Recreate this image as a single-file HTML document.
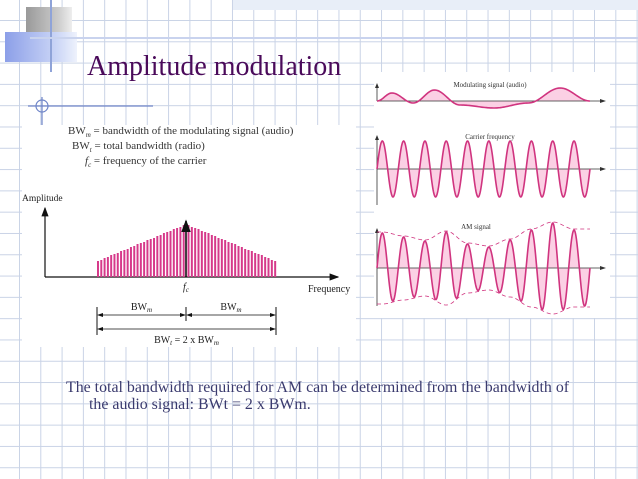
<!DOCTYPE html>
<html><head><meta charset="utf-8"><style>
html,body{margin:0;padding:0;}
body{width:638px;height:479px;position:relative;overflow:hidden;background-color:#fff;
background-image:linear-gradient(to right,#c9d3e6 1px,transparent 1px),linear-gradient(to bottom,#c9d3e6 1px,transparent 1px);
background-size:21.3px 21.3px;background-position:19px 20px;font-family:"Liberation Serif",serif;}
.abs{position:absolute;}
</style></head><body>
<div class="abs" style="left:233px;top:0;width:405px;height:10px;background:#e8eef8;"></div>
<div class="abs" style="left:26px;top:7px;width:46px;height:30px;background:linear-gradient(to right,#999,#ccc 70%,#eee);"></div>
<div class="abs" style="left:5px;top:32px;width:72px;height:30px;background:linear-gradient(to right,#8c9fe8,#c9d4f6 70%,#eef2fc);"></div>
<div class="abs" style="left:50px;top:0;width:2px;height:72px;background:#8fa3d8;"></div>
<div class="abs" style="left:30px;top:37px;width:608px;height:2px;background:#c9d3ee;"></div>
<div class="abs" style="left:87px;top:51px;font-size:28px;color:#4a0a5a;white-space:nowrap;">Amplitude modulation</div>
<svg class="abs" style="left:0;top:0" width="638" height="479">
<circle cx="42" cy="106" r="6" fill="none" stroke="#6f85c8" stroke-width="1.2"/>
<line x1="28" y1="106" x2="153" y2="106" stroke="#6f85c8" stroke-width="1.2"/>
<line x1="42" y1="97" x2="42" y2="128" stroke="#6f85c8" stroke-width="1.2"/>
</svg>
<div class="abs" style="left:22px;top:125px;width:334px;height:222px;background:#fff;"></div>
<div class="abs" style="left:374px;top:72px;width:236px;height:246px;background:#fff;"></div>
<div class="abs" style="left:68px;top:125px;font-size:11px;color:#333;white-space:nowrap;">BW<sub style="font-size:7px;font-style:italic">m</sub> = bandwidth of the modulating signal (audio)</div>
<div class="abs" style="left:72px;top:140px;font-size:11px;color:#333;white-space:nowrap;">BW<sub style="font-size:7px;font-style:italic">t</sub> = total bandwidth (radio)</div>
<div class="abs" style="left:85px;top:155px;font-size:11px;color:#333;white-space:nowrap;"><i>f</i><sub style="font-size:7px;font-style:italic">c</sub> = frequency of the carrier</div>
<svg class="abs" style="left:0;top:0" width="638" height="479" id="spec">
<defs><marker id="ah" markerWidth="8" markerHeight="6" refX="7" refY="3" orient="auto"><path d="M0,0L8,3L0,6z" fill="#111"/></marker></defs>
<text x="22" y="201" font-size="9.5" fill="#222" font-family="Liberation Serif,serif">Amplitude</text>
<text x="308" y="292" font-size="10" fill="#222" font-family="Liberation Serif,serif">Frequency</text>
<text x="183" y="290" font-size="10" font-style="italic" fill="#222" font-family="Liberation Serif,serif">f<tspan font-size="7" dy="2">c</tspan></text>
</svg>
<svg class="abs" style="left:0;top:0" width="638" height="479" id="waves">
<text x="490" y="87" font-size="7" text-anchor="middle" fill="#333" font-family="Liberation Serif,serif">Modulating signal (audio)</text>
<text x="490" y="139" font-size="7" text-anchor="middle" fill="#333" font-family="Liberation Serif,serif">Carrier frequency</text>
<text x="476" y="229" font-size="7" text-anchor="middle" fill="#333" font-family="Liberation Serif,serif">AM signal</text>
</svg>
<div class="abs" style="left:66px;top:379px;font-size:15.9px;color:#3a3a6e;line-height:17px;white-space:nowrap;">The total bandwidth required for AM can be determined from the bandwidth of<br><span style="padding-left:23px">the audio signal: BWt = 2 x BWm.</span></div>
<script>
const lowerSideband=[16,17,19,20,22,23,24,26,27,28,30,31,33,34,35,37,38,39,41,42,44,45,46,48,49,50,52];
const upperSideband=[52,50,49,48,46,45,44,42,41,39,38,37,35,34,33,31,30,28,27,26,24,23,22,20,19,17,16];
const carrierAmp=[56];
const modX=[0,0.07,0.17,0.27,0.39,0.55,0.71,0.86,1];
const modY=[0,8,-2,11,-4,-7,-2,13,0];
const carrierCycles=[10];
const amEnvelope=[35,31,27,36,24,21,28,38,45,38];
const NS='http://www.w3.org/2000/svg';
function mk(p,t,a){const e=document.createElementNS(NS,t);for(const k in a)e.setAttribute(k,a[k]);p.appendChild(e);return e;}
const sp=document.getElementById('spec');
const x0=45,y0=277,xl=97,xc=186,xr=276;
const ys=v=>y0-v;
const la=mk(sp,'line',{x1:x0,y1:y0,x2:x0,y2:208,stroke:'#111','stroke-width':1.2,'marker-end':'url(#ah)'});

const lb=mk(sp,'line',{x1:x0,y1:y0,x2:338,y2:y0,stroke:'#111','stroke-width':1.2,'marker-end':'url(#ah)'});

const dl=(xc-xl)/lowerSideband.length;
lowerSideband.forEach((v,i)=>{const x=xl+i*dl;const r=mk(sp,'rect',{x:x,y:ys(v),width:dl*0.6,height:v,fill:'#d6398a'});
});
const du=(xr-xc)/upperSideband.length;
upperSideband.forEach((v,i)=>{const x=xc+1.5+i*du;const r=mk(sp,'rect',{x:x,y:ys(v),width:du*0.6,height:v,fill:'#d6398a'});
});
const cl=mk(sp,'line',{x1:xc,y1:y0,x2:xc,y2:ys(carrierAmp[0]),stroke:'#111','stroke-width':1.6,'marker-end':'url(#ah)'});

[[xl,307,335],[xc,307,321],[xr,307,335]].forEach(t=>{const l=mk(sp,'line',{x1:t[0],y1:t[1],x2:t[0],y2:t[2],stroke:'#111','stroke-width':1});
});
function arrow(a,b,y,name){const l=mk(sp,'line',{x1:a+4,y1:y,x2:b-4,y2:y,stroke:'#111','stroke-width':0.8});

mk(sp,'path',{d:`M${a},${y}l6,-2v4z M${b},${y}l-6,-2v4z`,fill:'#111'});}
arrow(xl,xc,315,'bwm-left-arrow');arrow(xc,xr,315,'bwm-right-arrow');arrow(xl,xr,329,'bwt-arrow');
function lab(x,y,html,name){const t=mk(sp,'text',{x:x,y:y,'font-size':10,'text-anchor':'middle',fill:'#222','font-family':'Liberation Serif,serif'});t.innerHTML=html;
}
lab((xl+xc)/2,310,'BW<tspan font-size="7" font-style="italic" dy="2">m</tspan>','bwm-left-label');
lab((xc+xr)/2,310,'BW<tspan font-size="7" font-style="italic" dy="2">m</tspan>','bwm-right-label');
lab((xl+xr)/2,343,'BW<tspan font-size="7" font-style="italic" dy="2">t</tspan><tspan dy="-2"> = 2 x BW</tspan><tspan font-size="7" font-style="italic" dy="2">m</tspan>','bwt-label');
const w=document.getElementById('waves');
const wx0=377,wx1=590,wxe=603;
const pink='#d0347f',fillc='#fbd0e4';
function axes(yb,ytop,ybot,name){const a=mk(w,'line',{x1:wx0,y1:yb,x2:wxe,y2:yb,stroke:'#333','stroke-width':0.8});

mk(w,'path',{d:`M${wxe+3},${yb}l-6,-2v4z M${wx0},${ytop-2}l-2,5h4z`,fill:'#333'});
const b=mk(w,'line',{x1:wx0,y1:ytop,x2:wx0,y2:ybot,stroke:'#333','stroke-width':0.8});
}
function interp(xs,ys_,t){for(let i=0;i<xs.length-1;i++){if(t<=xs[i+1]){const u=(t-xs[i])/(xs[i+1]-xs[i]);const s=(1-Math.cos(Math.PI*u))/2;return ys_[i]+(ys_[i+1]-ys_[i])*s;}}return ys_[ys_.length-1];}
const mb=101;
let d='';for(let px=wx0;px<=wx1;px+=1){const t=(px-wx0)/(wx1-wx0);d+=(d?'L':'M')+px+','+(mb-interp(modX,modY,t)).toFixed(2);}
const mf=mk(w,'path',{d:d+`L${wx1},${mb}L${wx0},${mb}z`,fill:fillc});

axes(mb,85,101,'modulating');
const mp=mk(w,'path',{d:d,fill:'none',stroke:pink,'stroke-width':1.6});

const cb=169,ca=28,per=(wx1-wx0)/carrierCycles[0];
d='';for(let px=wx0;px<=wx1;px+=0.5){d+=(d?'L':'M')+px+','+(cb-ca*Math.sin(2*Math.PI*(px-wx0)/per)).toFixed(2);}
const cf=mk(w,'path',{d:d+`L${wx0},${cb}z`,fill:fillc});

axes(cb,137,205,'carrier');
const cp=mk(w,'path',{d:d,fill:'none',stroke:pink,'stroke-width':1.6});

const ab=268;
const ex=amEnvelope.map((v,i)=>(i+0.25)/amEnvelope.length);
const env=t=>interp([0].concat(ex,[1]),[amEnvelope[0]].concat(amEnvelope,[amEnvelope[amEnvelope.length-1]]),t);
d='';let up='',lo='';
for(let px=wx0;px<=wx1;px+=0.5){const t=(px-wx0)/(wx1-wx0);const e=env(t);d+=(d?'L':'M')+px+','+(ab-e*Math.sin(2*Math.PI*(px-wx0)/per)).toFixed(2);
up+=(up?'L':'M')+px+','+(ab-e-1).toFixed(2);lo+=(lo?'L':'M')+px+','+(ab+e+1).toFixed(2);}
const af=mk(w,'path',{d:d+`L${wx0},${ab}z`,fill:fillc});

axes(ab,230,306,'am');
const e1=mk(w,'path',{d:up,fill:'none',stroke:pink,'stroke-width':0.8,'stroke-dasharray':'4,3'});

const e2=mk(w,'path',{d:lo,fill:'none',stroke:pink,'stroke-width':0.8,'stroke-dasharray':'4,3'});

const ap=mk(w,'path',{d:d,fill:'none',stroke:pink,'stroke-width':1.6});

</script>
</body></html>
